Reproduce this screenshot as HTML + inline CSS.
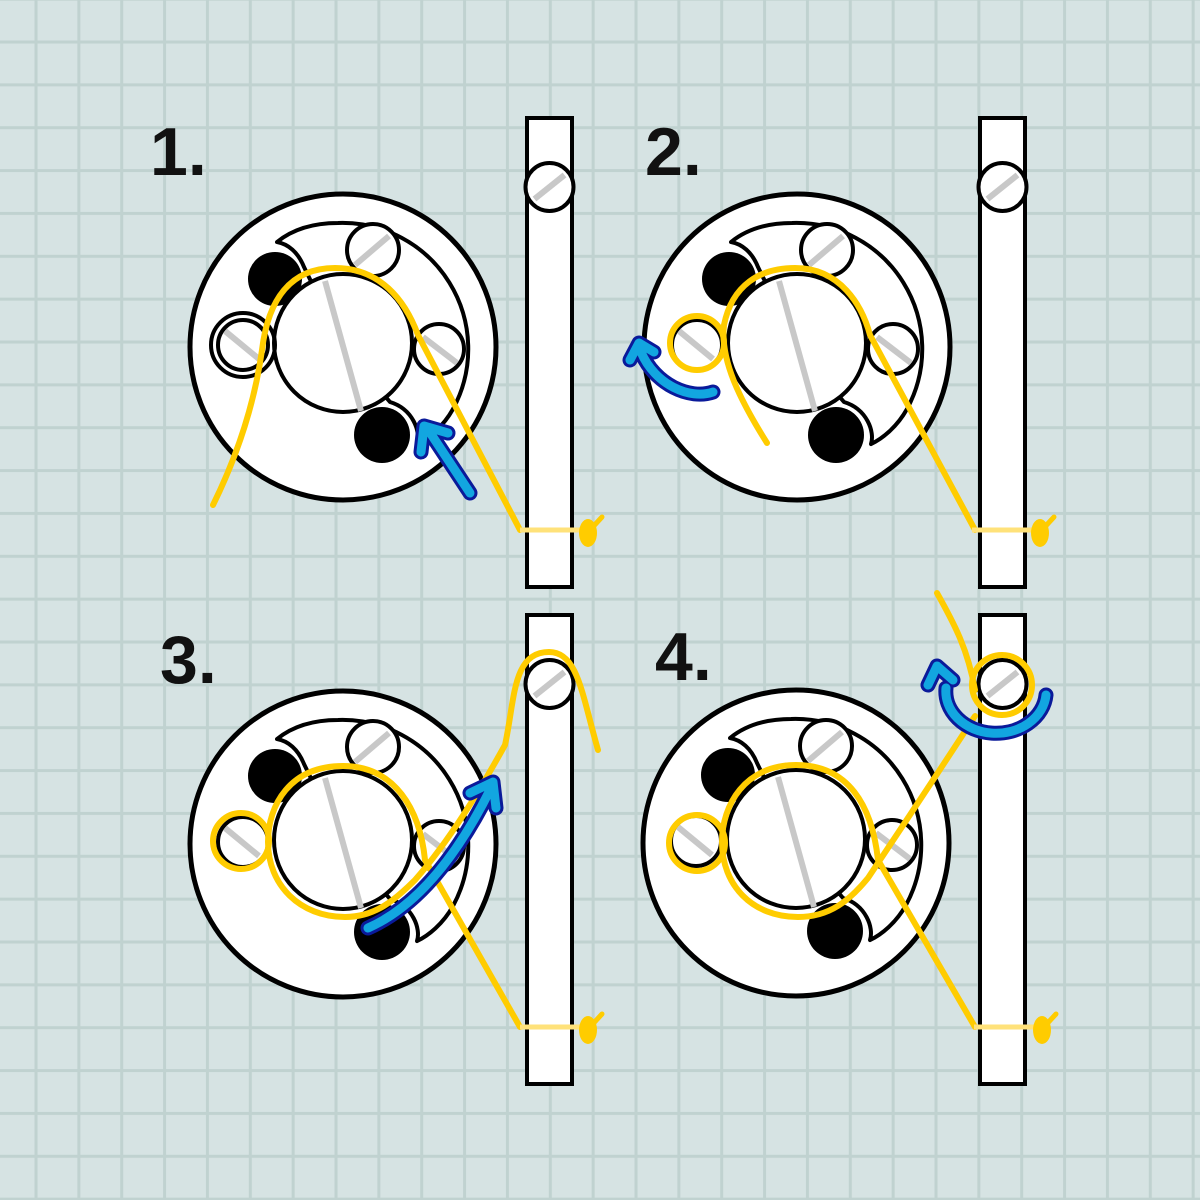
<!DOCTYPE html>
<html><head><meta charset="utf-8"><style>html,body{margin:0;padding:0;background:#d6e3e3}svg{display:block}text{font-family:"Liberation Sans",sans-serif;font-weight:bold;font-size:68px;fill:#111}</style></head>
<body>
<svg width="1200" height="1200" viewBox="0 0 1200 1200" xmlns="http://www.w3.org/2000/svg">
<defs>
<pattern id="grid" patternUnits="userSpaceOnUse" x="34.5" y="40.5" width="42.857" height="42.857">
<rect width="42.857" height="42.857" fill="#d6e3e3"/>
<rect x="0" y="0" width="3" height="42.857" fill="#c0d2d0"/>
<rect x="0" y="0" width="42.857" height="3" fill="#c0d2d0"/>
</pattern>
<g id="disc">
<circle r="153" fill="#fff" stroke="#000" stroke-width="5"/>
<path d="M-66,-105 C-50,-118 -30,-124 -5,-124 A126,126 0 0 1 110,62 C100,80 85,92 74,97 C78,85 70,62 47,55 L0,0 L-39,-80 C-45,-95 -55,-103 -66,-105 Z" fill="#fff" stroke="#000" stroke-width="4" stroke-linejoin="round"/>
<circle cx="-68" cy="-68" r="27" fill="#000"/>
<circle cx="39" cy="88" r="28" fill="#000"/>
<circle cx="30" cy="-97" r="26" fill="#fff" stroke="#000" stroke-width="4"/>
<line x1="12" y1="-82" x2="46" y2="-111" stroke="#c8c8c8" stroke-width="6"/>
<circle cx="-100" cy="-2" r="25" fill="#fff" stroke="#000" stroke-width="4"/>
<line x1="-118" y1="-16" x2="-84" y2="12" stroke="#c8c8c8" stroke-width="6"/>
<circle cx="96" cy="2" r="25" fill="#fff" stroke="#000" stroke-width="4"/>
<line x1="80" y1="-10" x2="114" y2="16" stroke="#c8c8c8" stroke-width="6"/>
<circle cx="0" cy="-4" r="69" fill="#fff" stroke="#000" stroke-width="4"/>
<line x1="-18" y1="-66" x2="18" y2="64" stroke="#c8c8c8" stroke-width="6"/>
</g>
<g id="bar">
<rect x="-22.5" y="0" width="45" height="469" fill="#fff" stroke="#000" stroke-width="4"/>
<circle cx="0" cy="69" r="24" fill="#fff" stroke="#000" stroke-width="4"/>
<line x1="-15" y1="81" x2="15" y2="57" stroke="#c8c8c8" stroke-width="6"/>
</g>
<g id="knot">
<line x1="-68" y1="0" x2="-5" y2="0" stroke="#ffe27a" stroke-width="5"/>
<ellipse cx="0" cy="3" rx="9" ry="14" fill="#ffcc00"/>
<line x1="2" y1="0" x2="14" y2="-13" stroke="#ffcc00" stroke-width="5" stroke-linecap="round"/>
</g>
</defs>
<rect width="1200" height="1200" fill="url(#grid)"/>

<text x="150" y="175">1.</text>
<text x="645" y="175">2.</text>
<text x="160" y="683">3.</text>
<text x="655" y="680">4.</text>

<use href="#disc" x="343" y="347"/>
<use href="#bar" x="549.5" y="118"/>
<circle cx="243" cy="345" r="32" fill="none" stroke="#000" stroke-width="4"/>
<g fill="none" stroke="#ffcc00" stroke-width="6" stroke-linecap="round">
<path d="M213,505 C240,450 255,400 262,350 C268,300 290,268 335,268 C380,268 405,300 418,335 L520,530"/>
</g>
<use href="#knot" x="588" y="530"/>
<g fill="none" stroke-linecap="round" stroke-linejoin="round">
<path d="M470,493 L427,428 M421,452 L424,426 L448,433" stroke="#0a1a9a" stroke-width="15"/>
<path d="M470,493 L427,428 M421,452 L424,426 L448,433" stroke="#12a6e0" stroke-width="9"/>
</g>

<use href="#disc" x="797" y="347"/>
<use href="#bar" x="1002.5" y="118"/>
<g fill="none" stroke="#ffcc00" stroke-width="6" stroke-linecap="round">
<circle cx="697" cy="343" r="27"/>
<path d="M767,443 C740,400 720,360 724,325 C732,285 760,268 795,268 C840,268 862,305 870,335 L975,530"/>
</g>
<use href="#knot" x="1040" y="530"/>
<g fill="none" stroke-linecap="round" stroke-linejoin="round">
<path d="M713,392 C690,400 655,385 641,352 M630,360 L639,343 L654,352" stroke="#0a1a9a" stroke-width="15"/>
<path d="M713,392 C690,400 655,385 641,352 M630,360 L639,343 L654,352" stroke="#12a6e0" stroke-width="9"/>
</g>

<use href="#disc" x="343" y="844"/>
<use href="#bar" x="549.5" y="615"/>
<g fill="none" stroke="#ffcc00" stroke-width="6" stroke-linecap="round">
<circle cx="241" cy="841" r="28"/>
<path d="M520,1027 L425,860 C420,810 395,766 343,766 C290,766 268,805 268,842 C268,885 300,917 345,917 C375,917 395,900 415,880 C450,840 480,790 505,745 C515,700 512,652 549,652 C578,652 582,695 598,750"/>
</g>
<use href="#knot" x="588" y="1027"/>
<g fill="none" stroke-linecap="round" stroke-linejoin="round">
<path d="M368,928 C420,905 460,850 490,790 M470,793 L493,782 L496,808" stroke="#0a1a9a" stroke-width="15"/>
<path d="M368,928 C420,905 460,850 490,790 M470,793 L493,782 L496,808" stroke="#12a6e0" stroke-width="9"/>
</g>

<use href="#disc" x="796" y="843"/>
<use href="#bar" x="1002.5" y="615"/>
<g fill="none" stroke="#ffcc00" stroke-width="6" stroke-linecap="round">
<circle cx="697" cy="843" r="28"/>
<circle cx="1002" cy="685" r="30"/>
<path d="M975,1027 L878,860 C872,805 848,765 796,765 C745,765 722,805 722,842 C722,885 752,917 798,917 C830,917 850,900 868,878 C900,830 940,770 975,716"/>
<path d="M937,593 C955,625 968,650 975,690"/>
</g>
<use href="#knot" x="1042" y="1027"/>
<g fill="none" stroke-linecap="round" stroke-linejoin="round">
<path d="M1046,695 A48,40 0 0 1 946,688 M928,685 L937,666 L953,680" stroke="#0a1a9a" stroke-width="15"/>
<path d="M1046,695 A48,40 0 0 1 946,688 M928,685 L937,666 L953,680" stroke="#12a6e0" stroke-width="9"/>
</g>
</svg>
</body></html>
